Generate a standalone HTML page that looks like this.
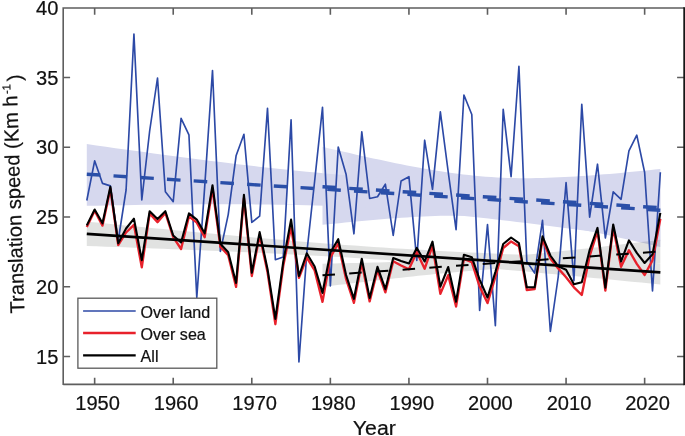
<!DOCTYPE html>
<html lang="en"><head><meta charset="utf-8"><title>Translation speed</title>
<style>html,body{margin:0;padding:0;background:#fff}body{width:685px;height:436px;overflow:hidden}</style></head>
<body>
<svg width="685" height="436" viewBox="0 0 685 436" style="display:block">
<rect width="685" height="436" fill="#fff"/>
<defs><linearGradient id="gB" gradientUnits="userSpaceOnUse" x1="322" y1="0" x2="352" y2="0"><stop offset="0" stop-color="#fff" stop-opacity="0.4"/><stop offset="0.45" stop-color="#fff" stop-opacity="0.33"/><stop offset="1" stop-color="#fff" stop-opacity="0"/></linearGradient></defs>
<polygon points="322.50,146.83 328.13,148.15 333.76,149.47 339.40,150.78 345.03,152.08 350.66,153.37 356.29,154.65 361.92,155.91 367.55,157.16 373.18,158.39 378.81,159.61 384.44,160.81 390.07,161.98 395.70,163.14 401.33,164.27 406.97,165.38 412.60,166.46 418.23,167.50 423.86,168.52 429.49,169.50 435.12,170.43 440.75,171.33 446.38,172.19 452.01,172.99 457.64,173.75 463.27,174.45 468.91,175.09 474.54,175.68 480.17,176.20 485.80,176.66 491.43,177.06 497.06,177.40 502.69,177.68 508.32,177.89 513.95,178.04 519.58,178.13 525.21,178.17 530.84,178.15 536.48,178.09 542.11,177.97 547.74,177.81 553.37,177.61 559.00,177.37 564.63,177.09 570.26,176.78 575.89,176.44 581.52,176.07 587.15,175.68 592.78,175.26 598.41,174.82 604.05,174.36 609.68,173.88 615.31,173.39 620.94,172.88 626.57,172.35 632.20,171.81 637.83,171.26 643.46,170.70 649.09,170.13 654.72,169.55 660.35,168.95 660.35,247.00 654.72,245.67 649.09,244.36 643.46,243.04 637.83,241.75 632.20,240.46 626.57,239.18 620.94,237.92 615.31,236.67 609.68,235.44 604.05,234.22 598.41,233.02 592.78,231.85 587.15,230.69 581.52,229.56 575.89,228.45 570.26,227.37 564.63,226.33 559.00,225.31 553.37,224.33 547.74,223.39 542.11,222.50 536.48,221.64 530.84,220.84 525.21,220.08 519.58,219.38 513.95,218.74 508.32,218.15 502.69,217.63 497.06,217.17 491.43,216.76 485.80,216.43 480.17,216.15 474.54,215.94 468.91,215.79 463.27,215.70 457.64,215.66 452.01,215.67 446.38,215.74 440.75,215.86 435.12,216.02 429.49,216.22 423.86,216.46 418.23,216.74 412.60,217.05 406.97,217.39 401.33,217.76 395.70,218.15 390.07,218.57 384.44,219.01 378.81,219.47 373.18,219.95 367.55,220.44 361.92,220.95 356.29,221.48 350.66,222.02 345.03,222.57 339.40,223.13 333.76,223.70 328.13,224.28 322.50,224.87" fill="#D6D8EE"/>
<polygon points="86.79,144.10 96.35,145.45 105.91,146.80 115.47,148.13 125.03,149.46 134.59,150.78 144.15,152.09 153.71,153.39 163.27,154.68 172.83,155.96 182.39,157.22 191.95,158.47 201.51,159.70 211.06,160.92 220.62,162.11 230.18,163.29 239.74,164.44 249.30,165.57 258.86,166.68 268.42,167.75 277.98,168.80 287.54,169.81 297.10,170.78 306.66,171.72 316.22,172.62 325.78,173.47 335.34,174.28 344.90,175.04 354.45,175.76 364.01,176.42 373.57,177.04 383.13,177.60 392.69,178.11 402.25,178.58 411.81,178.99 421.37,179.36 430.93,179.68 440.49,179.96 450.05,180.20 459.61,180.41 469.17,180.57 478.73,180.71 488.29,180.81 497.85,180.88 507.40,180.93 516.96,180.95 526.52,180.96 536.08,180.94 545.64,180.90 555.20,180.84 564.76,180.77 574.32,180.69 583.88,180.59 593.44,180.48 603.00,180.36 612.56,180.22 622.12,180.08 631.68,179.93 641.24,179.77 650.79,179.60 660.35,179.43 660.35,241.13 650.79,239.78 641.24,238.44 631.68,237.10 622.12,235.77 612.56,234.45 603.00,233.14 593.44,231.84 583.88,230.55 574.32,229.27 564.76,228.01 555.20,226.76 545.64,225.53 536.08,224.32 526.52,223.12 516.96,221.94 507.40,220.79 497.85,219.66 488.29,218.55 478.73,217.48 469.17,216.44 459.61,215.42 450.05,214.45 440.49,213.51 430.93,212.61 421.37,211.76 411.81,210.95 402.25,210.19 392.69,209.47 383.13,208.81 373.57,208.20 364.01,207.63 354.45,207.12 344.90,206.66 335.34,206.24 325.78,205.87 316.22,205.55 306.66,205.27 297.10,205.03 287.54,204.82 277.98,204.66 268.42,204.52 258.86,204.42 249.30,204.35 239.74,204.30 230.18,204.28 220.62,204.28 211.06,204.29 201.51,204.33 191.95,204.39 182.39,204.46 172.83,204.54 163.27,204.64 153.71,204.75 144.15,204.87 134.59,205.01 125.03,205.15 115.47,205.30 105.91,205.46 96.35,205.63 86.79,205.80" fill="#D6D8EE"/>
<polygon points="322.50,146.33 325.50,147.03 328.50,147.74 331.50,148.45 334.50,149.15 337.50,149.85 340.50,150.54 343.50,151.23 346.50,151.92 349.50,152.61 352.50,153.29 352.50,175.62 349.50,175.39 346.50,175.17 343.50,174.94 340.50,174.70 337.50,174.46 334.50,174.21 331.50,173.96 328.50,173.71 325.50,173.45 322.50,173.18" fill="url(#gB)"/>
<polygon points="288.6,169.5 292.6,169.5 293.6,204.5 286.8,204.5" fill="#fff"/>
<path d="M322.50 263.70L328.13 263.59L333.76 263.47L339.40 263.35L345.03 263.23L350.66 263.11L356.29 262.98L361.92 262.85L367.55 262.71L373.18 262.57L378.81 262.42L384.44 262.27L390.07 262.11L395.70 261.95L401.33 261.78L406.97 261.60L412.60 261.41L418.23 261.22L423.86 261.01L429.49 260.79L435.12 260.56L440.75 260.32L446.38 260.07L452.01 259.80L457.64 259.52L463.27 259.22L468.91 258.90L474.54 258.57L480.17 258.22L485.80 257.85L491.43 257.46L497.06 257.05L502.69 256.62L508.32 256.18L513.95 255.72L519.58 255.24L525.21 254.74L530.84 254.23L536.48 253.70L542.11 253.16L547.74 252.60L553.37 252.03L559.00 251.45L564.63 250.86L570.26 250.26L575.89 249.66L581.52 249.04L587.15 248.41L592.78 247.78L598.41 247.14L604.05 246.50L609.68 245.85L615.31 245.19L620.94 244.53L626.57 243.87L632.20 243.20L637.83 242.53L643.46 241.86L649.09 241.18L654.72 240.50L660.35 239.81L660.35 263.01L654.72 263.13L649.09 263.24L643.46 263.36L637.83 263.48L632.20 263.61L626.57 263.73L620.94 263.87L615.31 264.00L609.68 264.14L604.05 264.29L598.41 264.44L592.78 264.60L587.15 264.76L581.52 264.94L575.89 265.11L570.26 265.30L564.63 265.50L559.00 265.70L553.37 265.92L547.74 266.15L542.11 266.39L536.48 266.65L530.84 266.91L525.21 267.20L519.58 267.50L513.95 267.81L508.32 268.15L502.69 268.50L497.06 268.87L491.43 269.26L485.80 269.66L480.17 270.09L474.54 270.54L468.91 271.00L463.27 271.48L457.64 271.97L452.01 272.49L446.38 273.01L440.75 273.56L435.12 274.11L429.49 274.68L423.86 275.26L418.23 275.85L412.60 276.45L406.97 277.06L401.33 277.68L395.70 278.30L390.07 278.93L384.44 279.57L378.81 280.21L373.18 280.86L367.55 281.52L361.92 282.18L356.29 282.84L350.66 283.51L345.03 284.18L339.40 284.86L333.76 285.53L328.13 286.22L322.50 286.90ZM86.79 221.64L96.35 222.58L105.91 223.52L115.47 224.46L125.03 225.39L134.59 226.32L144.15 227.25L153.71 228.17L163.27 229.09L172.83 230.00L182.39 230.91L191.95 231.81L201.51 232.70L211.06 233.59L220.62 234.47L230.18 235.35L239.74 236.21L249.30 237.06L258.86 237.91L268.42 238.74L277.98 239.56L287.54 240.37L297.10 241.16L306.66 241.94L316.22 242.71L325.78 243.45L335.34 244.18L344.90 244.89L354.45 245.58L364.01 246.25L373.57 246.90L383.13 247.53L392.69 248.15L402.25 248.74L411.81 249.31L421.37 249.87L430.93 250.40L440.49 250.92L450.05 251.43L459.61 251.92L469.17 252.39L478.73 252.85L488.29 253.30L497.85 253.74L507.40 254.17L516.96 254.59L526.52 255.00L536.08 255.40L545.64 255.79L555.20 256.18L564.76 256.56L574.32 256.94L583.88 257.31L593.44 257.68L603.00 258.04L612.56 258.39L622.12 258.75L631.68 259.10L641.24 259.44L650.79 259.79L660.35 260.13L660.35 284.44L650.79 283.50L641.24 282.56L631.68 281.63L622.12 280.69L612.56 279.76L603.00 278.84L593.44 277.92L583.88 277.00L574.32 276.09L564.76 275.18L555.20 274.28L545.64 273.38L536.08 272.49L526.52 271.61L516.96 270.74L507.40 269.88L497.85 269.02L488.29 268.18L478.73 267.34L469.17 266.52L459.61 265.72L450.05 264.92L440.49 264.14L430.93 263.38L421.37 262.63L411.81 261.91L402.25 261.20L392.69 260.51L383.13 259.83L373.57 259.18L364.01 258.55L354.45 257.94L344.90 257.35L335.34 256.77L325.78 256.22L316.22 255.68L306.66 255.16L297.10 254.66L287.54 254.17L277.98 253.70L268.42 253.23L258.86 252.78L249.30 252.34L239.74 251.92L230.18 251.50L220.62 251.09L211.06 250.69L201.51 250.29L191.95 249.90L182.39 249.52L172.83 249.15L163.27 248.78L153.71 248.41L144.15 248.05L134.59 247.69L125.03 247.34L115.47 246.99L105.91 246.64L96.35 246.30L86.79 245.96Z" fill="#1c2420" fill-opacity="0.135" fill-rule="nonzero"/>
<polyline points="86.79,200.50 94.65,160.80 102.51,183.40 110.36,185.90 118.22,240.50 126.08,190.00 133.94,34.00 141.79,200.00 149.65,131.00 157.51,78.00 165.36,191.80 173.22,201.70 181.08,118.30 188.93,134.80 196.79,297.50 204.65,187.40 212.50,70.50 220.36,251.40 228.22,214.60 236.08,155.80 243.93,134.30 251.79,222.40 259.65,216.20 267.50,108.30 275.36,259.70 283.22,257.00 291.08,119.80 298.93,362.00 306.79,253.00 314.65,181.00 322.50,107.30 330.36,285.90 338.22,147.10 346.07,174.20 353.93,233.80 361.79,131.80 369.64,198.50 377.50,196.80 385.36,184.20 393.22,235.50 401.07,181.00 408.93,176.70 416.79,260.50 424.64,140.20 432.50,189.30 440.36,111.80 448.22,172.00 456.07,229.60 463.93,95.00 471.79,114.50 479.64,310.50 487.50,224.60 495.36,325.60 503.21,109.30 511.07,176.70 518.93,66.30 526.78,261.40 534.64,273.10 542.50,220.40 550.36,331.50 558.21,277.00 566.07,182.60 573.93,280.60 581.78,104.30 589.64,217.10 597.50,164.20 605.36,238.00 613.21,191.80 621.07,199.30 628.93,150.80 636.78,135.20 644.64,172.50 652.50,291.00 660.35,172.20" fill="none" stroke="#2C49A6" stroke-width="1.65" stroke-linejoin="round"/>
<line x1="86.79" y1="174.20" x2="660.35" y2="210.28" stroke="#2A4FA8" stroke-width="3.4" stroke-dasharray="13.6 13.17"/>
<line x1="322.50" y1="186.70" x2="660.35" y2="207.78" stroke="#2A4FA8" stroke-width="3.4" stroke-dasharray="13.6 13.17"/>
<polyline points="86.79,227.10 94.65,210.70 102.51,225.60 110.36,189.00 118.22,245.10 126.08,232.50 133.94,224.90 141.79,267.40 149.65,213.40 157.51,222.20 165.36,212.90 173.22,237.20 181.08,249.00 188.93,216.40 196.79,222.60 204.65,237.30 212.50,188.40 220.36,246.80 228.22,255.20 236.08,286.90 243.93,198.10 251.79,276.00 259.65,235.30 267.50,272.00 275.36,324.20 283.22,266.00 291.08,226.80 298.93,277.80 306.79,257.60 314.65,270.50 322.50,301.90 330.36,257.50 338.22,243.40 346.07,279.00 353.93,302.80 361.79,262.90 369.64,301.40 377.50,270.00 385.36,292.40 393.22,261.20 401.07,265.50 408.93,269.30 416.79,252.10 424.64,268.80 432.50,245.90 440.36,293.90 448.22,275.20 456.07,306.50 463.93,258.90 471.79,262.20 479.64,286.60 487.50,303.10 495.36,277.00 503.21,248.00 511.07,241.50 518.93,246.20 526.78,290.00 534.64,289.00 542.50,239.50 550.36,258.50 558.21,268.40 566.07,277.30 573.93,287.30 581.78,295.00 589.64,256.00 597.50,231.10 605.36,290.50 613.21,227.70 621.07,266.80 628.93,250.20 636.78,263.90 644.64,275.00 652.50,260.40 660.35,218.70" fill="none" stroke="#E8212B" stroke-width="2.35" stroke-linejoin="round"/>
<polyline points="86.79,225.40 94.65,209.50 102.51,223.30 110.36,186.80 118.22,243.30 126.08,228.50 133.94,218.70 141.79,260.10 149.65,211.20 157.51,219.00 165.36,211.20 173.22,235.50 181.08,242.50 188.93,213.40 196.79,219.60 204.65,233.30 212.50,185.20 220.36,243.80 228.22,252.20 236.08,282.90 243.93,194.90 251.79,272.80 259.65,232.10 267.50,269.00 275.36,318.90 283.22,262.00 291.08,219.60 298.93,276.00 306.79,253.40 314.65,266.50 322.50,292.90 330.36,252.50 338.22,239.20 346.07,275.00 353.93,298.80 361.79,258.70 369.64,297.90 377.50,266.80 385.36,289.20 393.22,258.00 401.07,261.00 408.93,263.50 416.79,247.90 424.64,261.50 432.50,241.70 440.36,286.60 448.22,267.00 456.07,301.70 463.93,254.70 471.79,257.20 479.64,279.60 487.50,297.50 495.36,272.00 503.21,244.00 511.07,237.50 518.93,243.20 526.78,287.30 534.64,287.30 542.50,236.30 550.36,255.50 558.21,266.40 566.07,269.80 573.93,284.30 581.78,282.30 589.64,250.00 597.50,227.90 605.36,287.70 613.21,224.50 621.07,261.50 628.93,240.40 636.78,252.90 644.64,263.00 652.50,254.40 660.35,212.90" fill="none" stroke="#000" stroke-width="2.1" stroke-linejoin="round"/>
<line x1="322.50" y1="275.30" x2="660.35" y2="251.41" stroke="#000" stroke-width="2" stroke-dasharray="12.5 14.27"/>
<line x1="86.79" y1="233.80" x2="660.35" y2="272.29" stroke="#000" stroke-width="2.7"/>
<g stroke="#5e5e5e" stroke-width="1.6" fill="none">
<path d="M63.2 8.05H684M63.2 7.3500000000000005V385.09999999999997M63.2 384.4H684"/>
<path d="M94.65 384.4v-6.6M94.65 8.05v6.8"/>
<path d="M173.22 384.4v-6.6M173.22 8.05v6.8"/>
<path d="M251.79 384.4v-6.6M251.79 8.05v6.8"/>
<path d="M330.36 384.4v-6.6M330.36 8.05v6.8"/>
<path d="M408.93 384.4v-6.6M408.93 8.05v6.8"/>
<path d="M487.50 384.4v-6.6M487.50 8.05v6.8"/>
<path d="M566.07 384.4v-6.6M566.07 8.05v6.8"/>
<path d="M644.64 384.4v-6.6M644.64 8.05v6.8"/>
<path d="M63.2 356.55h6.9M684 356.55h-6.9"/>
<path d="M63.2 286.80h6.9M684 286.80h-6.9"/>
<path d="M63.2 217.05h6.9M684 217.05h-6.9"/>
<path d="M63.2 147.30h6.9M684 147.30h-6.9"/>
<path d="M63.2 77.55h6.9M684 77.55h-6.9"/>
</g>
<rect x="683.3" y="7.2" width="1.7" height="378" fill="#161616"/>
<rect x="77.9" y="298.2" width="138.9" height="70.0" fill="#fff" stroke="#5a5a5a" stroke-width="1.3"/>
<line x1="83.1" x2="135.7" y1="311.0" y2="311.0" stroke="#2C49A6" stroke-width="1.65"/>
<line x1="83.1" x2="135.7" y1="333.0" y2="333.0" stroke="#E8212B" stroke-width="2.6"/>
<line x1="83.1" x2="135.7" y1="355.4" y2="355.4" stroke="#000" stroke-width="2.2"/>
<g font-family="Liberation Sans, Arial, Helvetica, sans-serif" fill="#111" stroke="#111" stroke-width="0.22" stroke-linejoin="round">
<text transform="translate(140.60,317.70) scale(1.017,1)" font-size="15.8" text-anchor="start">Over land</text>
<text transform="translate(140.60,340.00) scale(1.017,1)" font-size="15.8" text-anchor="start">Over sea</text>
<text transform="translate(140.60,362.10) scale(1.017,1)" font-size="15.8" text-anchor="start">All</text>
<text transform="translate(97.55,410.40) scale(0.98,1)" font-size="20.5" text-anchor="middle">1950</text>
<text transform="translate(176.12,410.40) scale(0.98,1)" font-size="20.5" text-anchor="middle">1960</text>
<text transform="translate(254.69,410.40) scale(0.98,1)" font-size="20.5" text-anchor="middle">1970</text>
<text transform="translate(333.26,410.40) scale(0.98,1)" font-size="20.5" text-anchor="middle">1980</text>
<text transform="translate(411.83,410.40) scale(0.98,1)" font-size="20.5" text-anchor="middle">1990</text>
<text transform="translate(490.40,410.40) scale(0.98,1)" font-size="20.5" text-anchor="middle">2000</text>
<text transform="translate(568.97,410.40) scale(0.98,1)" font-size="20.5" text-anchor="middle">2010</text>
<text transform="translate(647.54,410.40) scale(0.98,1)" font-size="20.5" text-anchor="middle">2020</text>
<text transform="translate(58.40,363.55) scale(0.98,1)" font-size="20.5" text-anchor="end">15</text>
<text transform="translate(58.40,293.80) scale(0.98,1)" font-size="20.5" text-anchor="end">20</text>
<text transform="translate(58.40,224.05) scale(0.98,1)" font-size="20.5" text-anchor="end">25</text>
<text transform="translate(58.40,154.30) scale(0.98,1)" font-size="20.5" text-anchor="end">30</text>
<text transform="translate(58.40,84.55) scale(0.98,1)" font-size="20.5" text-anchor="end">35</text>
<text transform="translate(58.40,14.80) scale(0.98,1)" font-size="20.5" text-anchor="end">40</text>
<text transform="translate(374.30,435.20) scale(1.035,1)" font-size="20.6" text-anchor="middle">Year</text>
<text transform="translate(24.4,313.2) rotate(-91.9) scale(0.99,1)" font-size="20.3">Translation speed (Km h<tspan font-size="11.5" dy="-6.6" dx="1.4">-1</tspan><tspan dy="11.3" dx="2.6">)</tspan></text>
</g>
</svg>
</body></html>
